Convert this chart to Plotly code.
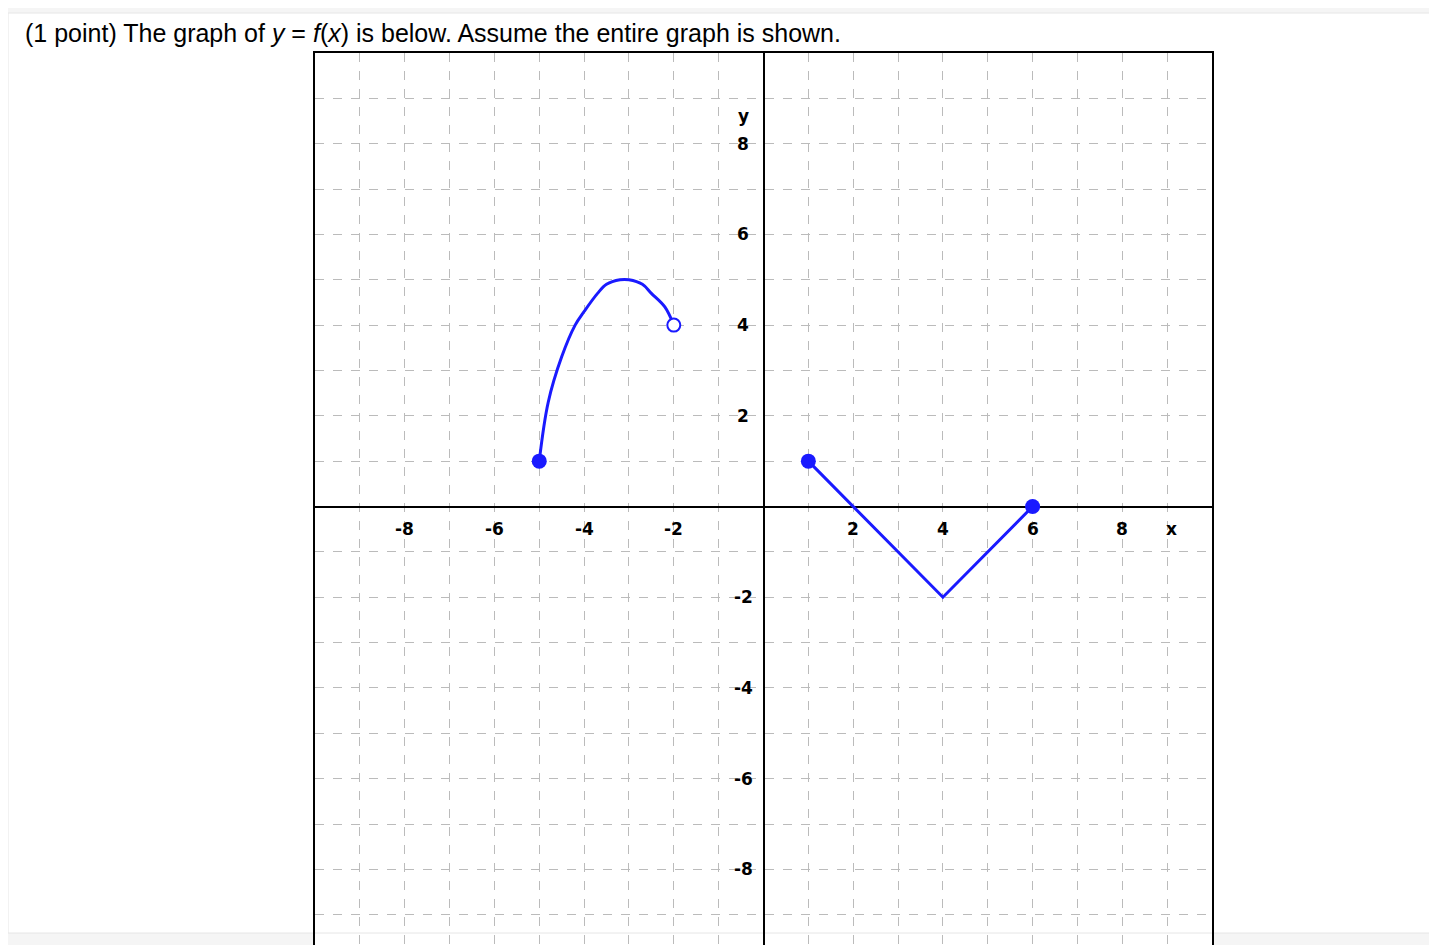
import plotly.graph_objects as go

# curve piece (left) and V piece (right)
curve_x = [-5, -4.8, -4.5, -4.2, -4, -3.7, -3.5, -3.2, -3, -2.7, -2.5, -2.2, -2]
curve_y = [1, 2.3, 3.3, 4.0, 4.3, 4.7, 4.9, 5.0, 5.0, 4.9, 4.7, 4.4, 4]
v_x = [1, 4, 6]
v_y = [1, -2, 0]
filled_x = [-5, 1, 6]
filled_y = [1, 1, 0]
open_x = [-2]
open_y = [4]

x_ticks = [-8, -6, -4, -2, 2, 4, 6, 8]
y_ticks = [-8, -6, -4, -2, 2, 4, 6, 8]

W, H = 1437, 945
off = 8  # page body margin
top_px = 53 - off
y_top = 10
y_bot = (502 - (H + 0)) / 45

fig = go.Figure()
blue = "#1a1aff"
fig.add_trace(go.Scatter(x=curve_x, y=curve_y, mode="lines", line=dict(color=blue, width=3, shape="spline")))
fig.add_trace(go.Scatter(x=v_x, y=v_y, mode="lines", line=dict(color=blue, width=3)))
fig.add_trace(go.Scatter(x=filled_x, y=filled_y, mode="markers", marker=dict(color=blue, size=15)))
fig.add_trace(go.Scatter(x=open_x, y=open_y, mode="markers",
                         marker=dict(color="white", size=13, line=dict(color=blue, width=2))))

for t in x_ticks:
    fig.add_annotation(x=t, y=-0.5, text="<b>%d</b>" % t, showarrow=False,
                       font=dict(family="DejaVu Sans", size=17, color="black"))
for t in y_ticks:
    fig.add_annotation(x=-0.45, y=t, text="<b>%d</b>" % t, showarrow=False,
                       font=dict(family="DejaVu Sans", size=17, color="black"))
fig.add_annotation(x=9.1, y=-0.5, text="<b>x</b>", showarrow=False,
                   font=dict(family="DejaVu Sans", size=17, color="black"))
fig.add_annotation(x=-0.45, y=8.6, text="<b>y</b>", showarrow=False,
                   font=dict(family="DejaVu Sans", size=17, color="black"))

fig.add_annotation(xref="paper", yref="paper", x=(23 - off) / W, y=1 - (33 - off) / H,
                   xanchor="left", yanchor="middle",
                   text="(1 point) The graph of <i>y</i> = <i>f</i>(<i>x</i>) is below. Assume the entire graph is shown.",
                   showarrow=False, font=dict(family="Liberation Sans", size=25, color="black"))

# page panel
fig.add_shape(type="rect", xref="paper", yref="paper", x0=0, x1=1.0, y0=1 - (933 - off) / H, y1=1 - (13 - off) / H,
              line=dict(color="#e6e6e6", width=1), fillcolor="white", layer="below")

axis_common = dict(dtick=1, showticklabels=False, showgrid=True, gridcolor="#bbbbbb", griddash="dash",
                   gridwidth=1, zeroline=True, zerolinecolor="black", zerolinewidth=1.5,
                   showline=True, linecolor="black", linewidth=2, mirror=True, fixedrange=True)
fig.update_layout(
    width=W, height=H, showlegend=False,
    paper_bgcolor="#f5f5f5", plot_bgcolor="white",
    margin=dict(l=0, r=0, t=0, b=0),
    xaxis=dict(range=[-10, 10], domain=[(315 - off) / W, (1212 - off) / W], tick0=0, **axis_common),
    yaxis=dict(range=[y_bot, y_top], domain=[0, 1 - top_px / H], tick0=0, **axis_common),
)
fig.write_html("out.html")
